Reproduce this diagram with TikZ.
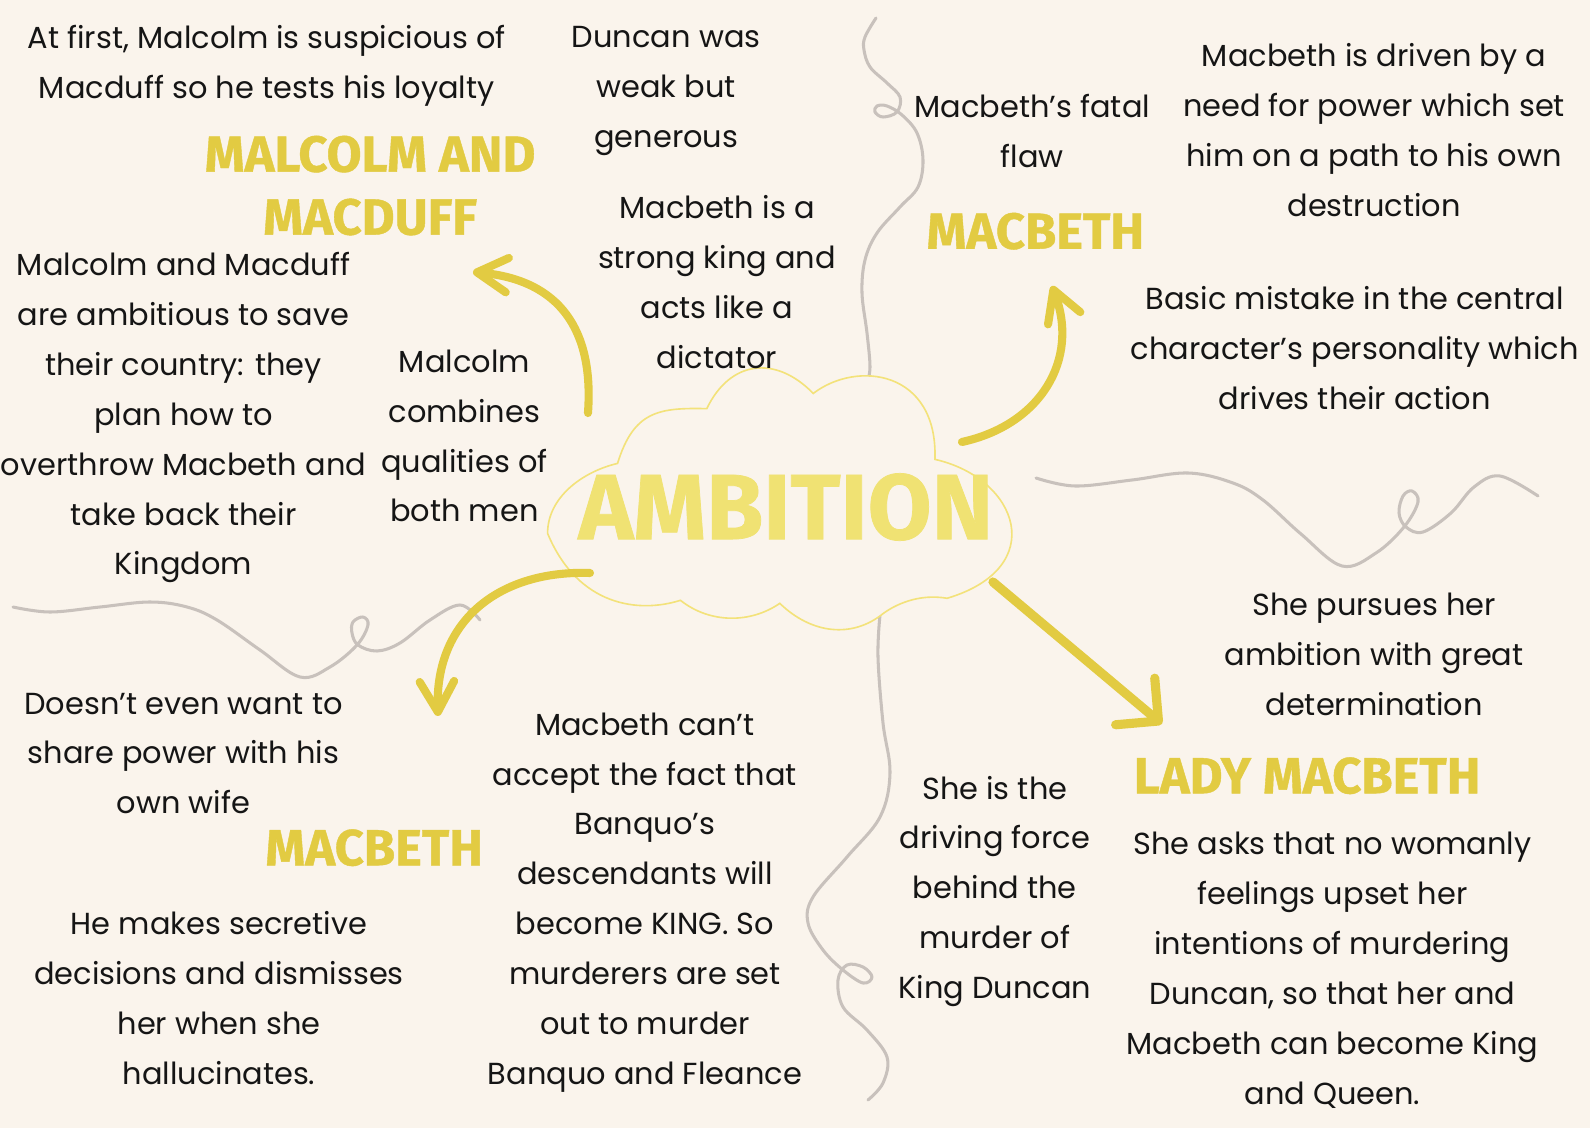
\documentclass[tikz,border=0pt]{standalone}
\usepackage{fontspec}
\setmainfont{Poppins}
\newfontfamily\hfont{Fira Sans}[BoldFeatures={FakeBold=0.8}]
\usetikzlibrary{arrows.meta}
\definecolor{bg}{HTML}{FAF4EC}
\definecolor{hdr}{HTML}{E2CB42}
\definecolor{amb}{HTML}{F0E273}
\definecolor{cloudline}{HTML}{F3E27A}
\definecolor{squig}{HTML}{C8C1BC}
\definecolor{ink}{HTML}{151515}
\tikzset{
  body/.style={font=\fontsize{15pt}{24.6pt}\selectfont, text=ink, align=center, inner sep=0pt, yshift=-2pt},
  header/.style={font=\hfont\bfseries\fontsize{25pt}{31pt}\selectfont, text=hdr, align=center, inner sep=0pt},
  bigword/.style={font=\hfont\bfseries\fontsize{45.7pt}{50pt}\selectfont, text=amb, inner sep=0pt},
  squiggle/.style={draw=squig, line width=1.5pt, line cap=round, line join=round},
  yarrow/.style={draw=hdr, line width=4pt, line cap=round, -{Straight Barb[length=15pt,width=17pt,round]}},
  cloudstyle/.style={draw=cloudline, line width=0.8pt, fill=bg}
}
\begin{document}
\begin{tikzpicture}[x=0.5pt,y=-0.5pt]
\fill[bg] (0,0) rectangle (1568,1112);
\useasboundingbox (0,0) rectangle (1568,1112);

% squiggles (reference pixel coordinates)
\begin{scope}[scale=0.98616]
\draw[squiggle] plot[smooth, tension=0.6] coordinates {(876,18) (865,37) (864,50) (870,67) (887,83) (900,97) (897,112) (883,117) (875,112) (877,106) (887,106) (902,115) (917,133) (923,160) (918,187) (900,207) (877,233) (865,260) (862,293) (867,333) (870,367) (867,383)};
\draw[squiggle] plot[smooth, tension=0.6] coordinates {(13,607) (50,612) (100,607) (150,602) (187,607) (217,620) (260,650) (300,677) (330,667) (357,645) (368,625) (363,617) (353,622) (352,633) (358,645) (377,651) (400,643) (430,620) (460,605) (480,620)};
\draw[squiggle] plot[smooth, tension=0.6] coordinates {(1036,478) (1075,486) (1132,480) (1188,473) (1233,483) (1263,500) (1301,534) (1342,566) (1376,553) (1404,527) (1418,502) (1412,491) (1403,496) (1399,513) (1406,527) (1423,532) (1451,513) (1474,487) (1500,476) (1538,496)};
\draw[squiggle] plot[smooth, tension=0.6] coordinates {(880,615) (878,657) (883,723) (890,773) (880,817) (847,857) (813,897) (808,923) (823,950) (843,970) (863,983) (872,977) (863,967) (847,965) (838,980) (843,1007) (867,1030) (887,1057) (883,1083) (868,1100)};
\end{scope}

% cloud
\draw[cloudstyle] (540,526)
  .. controls (540,490) and (575,465) .. (609,457)
  .. controls (625,405) and (650,402) .. (697,403)
  .. controls (720,355) and (765,350) .. (802,388)
  .. controls (845,355) and (925,365) .. (922,453)
  .. controls (1005,472) and (1035,560) .. (934,590)
  .. controls (905,585) and (882,597) .. (871,605)
  .. controls (840,630) and (800,625) .. (769,595)
  .. controls (740,615) and (700,615) .. (671,592)
  .. controls (630,605) and (570,598) .. (540,526) -- cycle;

\node[bigword] (ambition) at (775,500) {AMBITION};

% arrows
\begin{scope}[scale=0.98616]
\coordinate (aAs) at (588,413); \coordinate (aAe) at (473,272);
\coordinate (aBs) at (962,442); \coordinate (aBe) at (1052,286);
\coordinate (aCs) at (590,573); \coordinate (aCe) at (438,716);
\coordinate (aDs) at (993,582); \coordinate (aDe) at (1162,724);
\draw[yarrow] (aAs) .. controls (594,330) and (560,280) .. (aAe);
\draw[yarrow] (aBs) .. controls (1040,425) and (1080,360) .. (aBe);
\draw[yarrow] (aCs) .. controls (500,570) and (435,620) .. (aCe);
\draw[yarrow, line width=4.5pt, -{Straight Barb[length=15pt,width=30pt,round]}] (aDs) -- (aDe);
\end{scope}

% headers
\node[header] (hmm) at (365,183) {MALCOLM AND\\MACDUFF};
\node[header] (hmac1) at (1021,228) {MACBETH};
\node[header] (hlady) at (1289,765) {LADY MACBETH};
\node[header] (hmac2) at (369,836) {MACBETH};

% body texts
\node[body] (t1) at (263,61) {At first, Malcolm is suspicious of\\Macduff so he tests his loyalty};
\node[body] (t2) at (657,86) {Duncan was\\weak but\\generous};
\node[body] (t4) at (707,274) {Macbeth is a\\strong king and\\acts like a\\dictator};
\node[body] (t5) at (181,408) {Malcolm and Macduff\\are ambitious to save\\their country: they\\plan how to\\overthrow Macbeth and\\take back their\\Kingdom};
\node[body] (t6) at (458,426) {Malcolm\\combines\\qualities of\\both men};
\node[body] (t7) at (1018,125) {Macbeth’s fatal\\flaw};
\node[body] (t9) at (1355,124) {Macbeth is driven by a\\need for power which set\\him on a path to his own\\destruction};
\node[body] (t10) at (1336,339) {Basic mistake in the central\\character's personality which\\drives their action};
\node[body] (t12) at (1355,641) {She pursues her\\ambition with great\\determination};
\node[body] (t14) at (1314,953) {She asks that no womanly\\feelings upset her\\intentions of murdering\\Duncan, so that her and\\Macbeth can become King\\and Queen.};
\node[body] (t15) at (981,875) {She is the\\driving force\\behind the\\murder of\\King Duncan};
\node[body] (t16) at (181,739) {Doesn't even want to\\share power with his\\own wife};
\node[body] (t18) at (216,980) {He makes secretive\\decisions and dismisses\\her when she\\hallucinates.};
\node[body] (t19) at (636,886) {Macbeth can't\\accept the fact that\\Banquo’s\\descendants will\\become KING. So\\murderers are set\\out to murder\\Banquo and Fleance};
\end{tikzpicture}
\end{document}
